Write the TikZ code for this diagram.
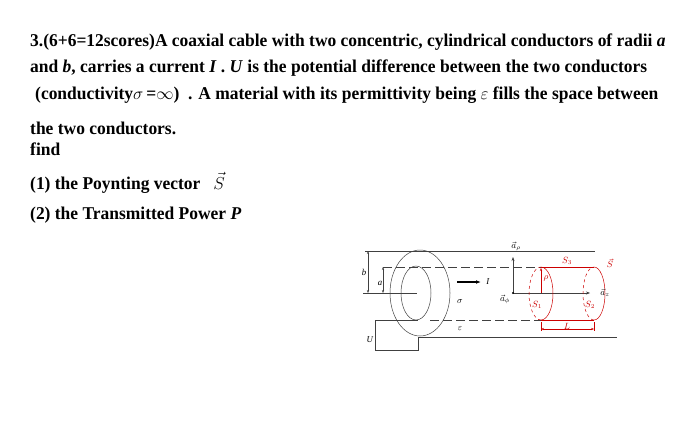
\documentclass[tikz,border=0pt]{standalone}
\usepackage{fontspec}
\setmainfont{Liberation Serif}[FakeStretch=0.97]
\usetikzlibrary{arrows.meta}
\begin{document}
\begin{tikzpicture}[x=1pt,y=-1pt,
  txt/.style={anchor=base west,inner sep=0pt,font=\fontsize{18}{20}\selectfont\bfseries},
  thin/.style={line width=0.5pt,black!75},
  red/.style={line width=0.5pt,red!80!black},
  dsh/.style={dash pattern=on 9pt off 4pt},
  lbl/.style={inner sep=0pt,font=\fontsize{9}{10}\selectfont}]
\useasboundingbox (0,0) rectangle (700,436);
\node[txt] (l1) at (30,47) {3.(6+6=12scores)A coaxial cable with two concentric, cylindrical conductors of radii \textit{a}};
\node[txt] (l2) at (30,72) {and \textit{b}, carries a current \textit{I} . \textit{U} is the potential difference between the two conductors};
\node[txt] (l3) at (35,99) {(conductivity$\sigma$\,=$\infty$)\ \ . A material with its permittivity being $\varepsilon$ fills the space between};
\node[txt] (l4) at (30,134) {the two conductors.};
\node[txt] (l5) at (30,155) {find};
\node[txt] (l6) at (30,189) {(1) the Poynting vector\ \ \ $\vec{S}$};
\node[txt] (l7) at (30,219) {(2) the Transmitted Power \textit{P}};
% cable
\draw[thin] (365,251) -- (595,251);
\draw[thin] (418,337) -- (617,337);
\draw[thin,dsh] (383,267) -- (582,267);
\draw[thin,dsh] (430,320) -- (582,320);
\draw[thin] (375,320) -- (418,320);
\draw[thin] (420,293) ellipse (30 and 43);
\draw[thin] (416,293) ellipse (15 and 27);
\draw[thin] (363,293) -- (417,293);
\draw[thin] (375,320) -- (375,350) -- (418,350) -- (418,337);
\draw[thin,{Stealth[length=3pt]}-{Stealth[length=3pt]}] (368,251) -- (368,293);
\draw[thin,{Stealth[length=3pt]}-{Stealth[length=3pt]}] (383,267) -- (383,293);
\node[lbl] (b) at (364,272) {\textit{b}};
\node[lbl] (a) at (380,283) {\textit{a}};
\node[lbl] (U) at (370,340) {\textit{U}};
\draw[line width=1.5pt,-{Latex[length=5pt]}] (457,282) -- (481,282);
\node[lbl] (I) at (488,282) {\textit{I}};
\node[lbl] (sg) at (460,302) {$\sigma$};
\node[lbl] (ep) at (460,329) {$\varepsilon$};
% axes
\draw[thin,-{Stealth[length=4pt]}] (513,293) -- (513,257);
\draw[thin,-{Stealth[length=4pt]}] (513,293) -- (590,293);
\fill (513,293) circle (1.2);
\node[lbl] (ar) at (516,246) {$\vec{a}_\rho$};
\node[lbl] (af) at (505,299) {$\vec{a}_\phi$};
\node[lbl] (az) at (605,293) {$\vec{a}_z$};
% red cylinder
\draw[red,dashed] (541,320) arc (90:270:12 and 26.5);
\draw[red] (541,320) arc (90:-90:12 and 26.5);
\draw[red,dashed] (594,320) arc (90:270:11 and 26.5);
\draw[red] (594,320) arc (90:-90:11 and 26.5);
\draw[red] (541,267) -- (594,267);
\draw[red] (541,320) -- (594,320);
\draw[red,-{Stealth[length=3pt]}] (541,293) -- (541,268);
\draw[red,{Stealth[length=3pt]}-{Stealth[length=3pt]}] (541,329) -- (594,329);
\draw[red] (541,322) -- (541,331);
\draw[red] (594,322) -- (594,331);
\node[lbl,red] (rho) at (546,278) {$\rho$};
\node[lbl,red] (S3) at (567,261) {$S_3$};
\node[lbl,red] (S) at (610,263) {$\vec{S}$};
\node[lbl,red] (S1) at (537,305) {$S_1$};
\node[lbl,red] (S2) at (590,305) {$S_2$};
\node[lbl,red] (L) at (567,326) {$L$};
\end{tikzpicture}
\end{document}
